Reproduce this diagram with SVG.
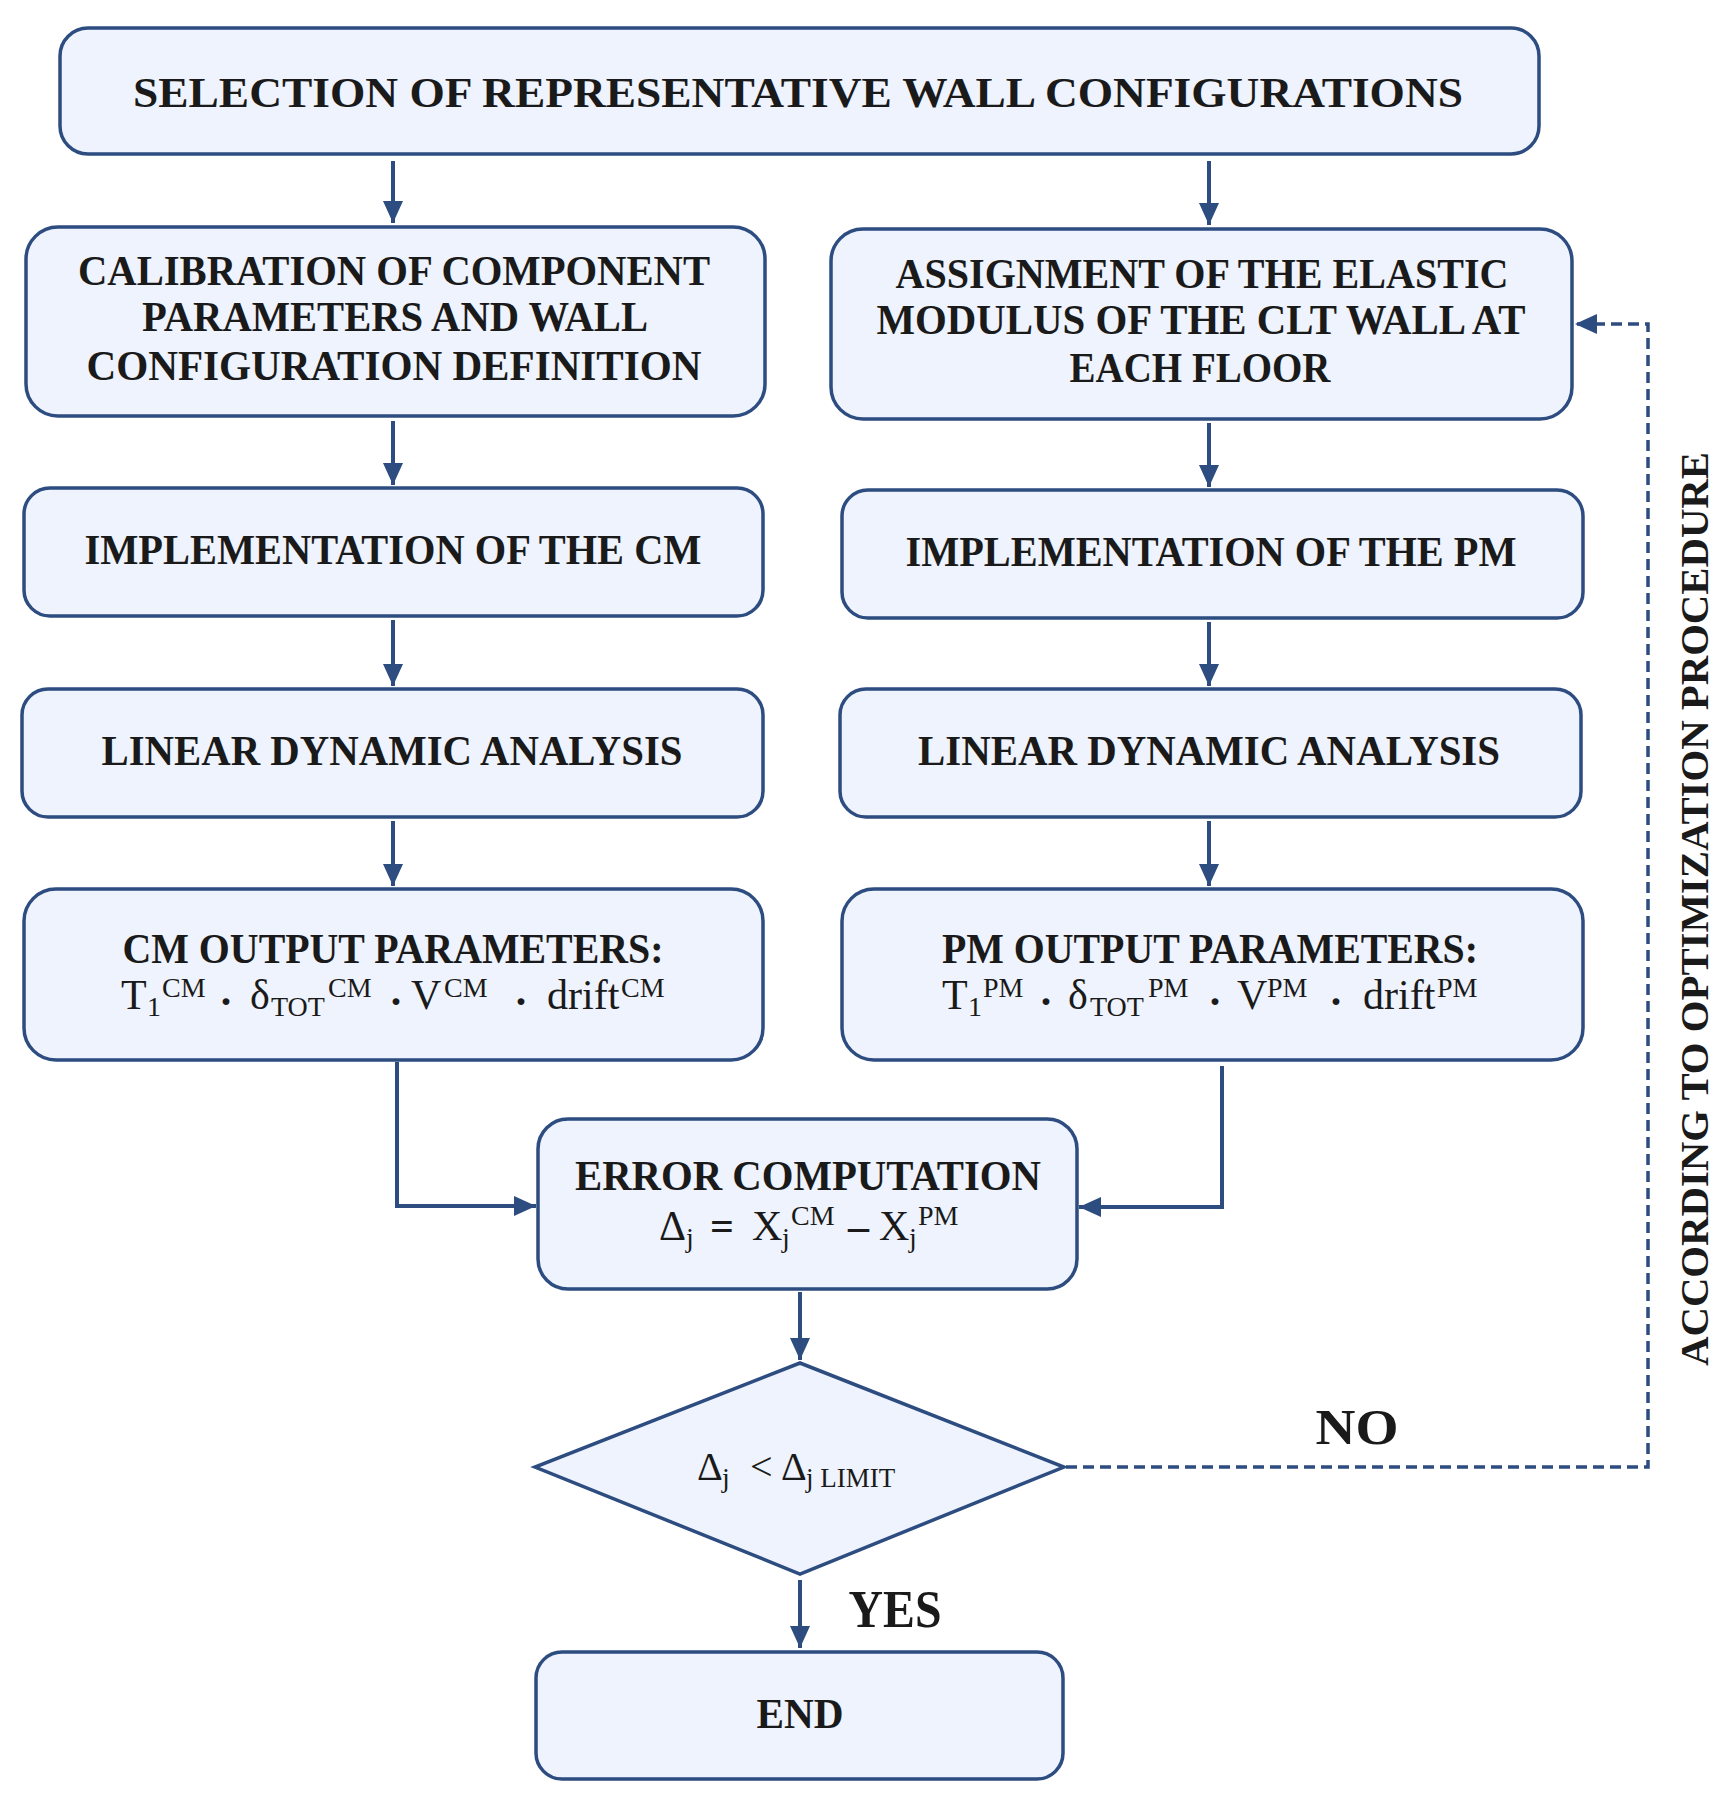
<svg xmlns="http://www.w3.org/2000/svg" width="1735" height="1804" viewBox="0 0 1735 1804">
<defs>
<style>
.box{fill:#eef3fd;stroke:#2d4c80;stroke-width:3.5}
.t{font-family:"Liberation Serif",serif;font-size:42px;font-weight:bold;fill:#1a1a1a;text-anchor:middle}
.f{font-family:"Liberation Serif",serif;font-size:42px;fill:#1a1a1a;text-anchor:start}
.s{font-size:28px}
.b{font-weight:bold}
.c{fill:none;stroke:#2d4c80;stroke-width:4}
.d{fill:none;stroke:#2d4c80;stroke-width:3.5;stroke-dasharray:11 6}
</style>
<marker id="ah" markerUnits="userSpaceOnUse" markerWidth="24" markerHeight="22" refX="22" refY="10" orient="auto">
<path d="M0,0 L22,10 L0,20 Z" fill="#2d4c80"/>
</marker>
</defs>
<rect width="1735" height="1804" fill="#ffffff"/>

<g id="connectors">
<path class="c" d="M393,161 V223" marker-end="url(#ah)"/>
<path class="c" d="M1209,161 V225" marker-end="url(#ah)"/>
<path class="c" d="M393,421 V485" marker-end="url(#ah)"/>
<path class="c" d="M393,620 V686" marker-end="url(#ah)"/>
<path class="c" d="M393,821 V886" marker-end="url(#ah)"/>
<path class="c" d="M1209,423 V487" marker-end="url(#ah)"/>
<path class="c" d="M1209,622 V686" marker-end="url(#ah)"/>
<path class="c" d="M1209,821 V886" marker-end="url(#ah)"/>
<path class="c" d="M397,1062 V1206 H536" marker-end="url(#ah)"/>
<path class="c" d="M1222,1066 V1207 H1079" marker-end="url(#ah)"/>
<path class="c" d="M800,1292 V1360" marker-end="url(#ah)"/>
<path class="c" d="M800,1580 V1648" marker-end="url(#ah)"/>
<path class="d" d="M1066,1467 H1648 V324 H1575" marker-end="url(#ah)"/>
</g>

<g id="n-selection">
<rect class="box" x="60" y="28" width="1479" height="126" rx="28"/>
<text class="t" x="798" y="107" textLength="1330" lengthAdjust="spacingAndGlyphs">SELECTION OF REPRESENTATIVE WALL CONFIGURATIONS</text>
</g>

<g id="n-calibration">
<rect class="box" x="26" y="227" width="739" height="189" rx="32"/>
<text class="t" x="394" y="285" textLength="632" lengthAdjust="spacingAndGlyphs">CALIBRATION OF COMPONENT</text>
<text class="t" x="395" y="331" textLength="506" lengthAdjust="spacingAndGlyphs">PARAMETERS AND WALL</text>
<text class="t" x="394" y="380" textLength="615" lengthAdjust="spacingAndGlyphs">CONFIGURATION DEFINITION</text>
</g>

<g id="n-assignment">
<rect class="box" x="831" y="229" width="741" height="190" rx="32"/>
<text class="t" x="1202" y="288" textLength="613" lengthAdjust="spacingAndGlyphs">ASSIGNMENT OF THE ELASTIC</text>
<text class="t" x="1201" y="334" textLength="649" lengthAdjust="spacingAndGlyphs">MODULUS OF THE CLT WALL AT</text>
<text class="t" x="1200" y="382" textLength="261" lengthAdjust="spacingAndGlyphs">EACH FLOOR</text>
</g>

<g id="n-impl-cm">
<rect class="box" x="24" y="488" width="739" height="128" rx="26"/>
<text class="t" x="393" y="564" textLength="617" lengthAdjust="spacingAndGlyphs">IMPLEMENTATION OF THE CM</text>
</g>

<g id="n-impl-pm">
<rect class="box" x="842" y="490" width="741" height="128" rx="26"/>
<text class="t" x="1211" y="566" textLength="611" lengthAdjust="spacingAndGlyphs">IMPLEMENTATION OF THE PM</text>
</g>

<g id="n-lda-cm">
<rect class="box" x="22" y="689" width="741" height="128" rx="26"/>
<text class="t" x="392" y="765" textLength="581" lengthAdjust="spacingAndGlyphs">LINEAR DYNAMIC ANALYSIS</text>
</g>

<g id="n-lda-pm">
<rect class="box" x="840" y="689" width="741" height="128" rx="26"/>
<text class="t" x="1209" y="765" textLength="582" lengthAdjust="spacingAndGlyphs">LINEAR DYNAMIC ANALYSIS</text>
</g>

<g id="n-out-cm">
<rect class="box" x="24" y="889" width="739" height="171" rx="32"/>
<text class="t" x="393" y="963" textLength="541" lengthAdjust="spacingAndGlyphs">CM OUTPUT PARAMETERS:</text>
<text class="f"><tspan x="121" y="1009">T</tspan><tspan class="s" x="147" y="1016">1</tspan><tspan class="s" x="162" y="997">CM</tspan><tspan class="b" x="219" y="1016">·</tspan><tspan x="250" y="1009">δ</tspan><tspan class="s" x="271" y="1016">TOT</tspan><tspan class="s" x="328" y="997">CM</tspan><tspan class="b" x="389" y="1016">·</tspan><tspan x="411" y="1009">V</tspan><tspan class="s" x="444" y="997">CM</tspan><tspan class="b" x="514" y="1016">·</tspan><tspan x="547" y="1009">drift</tspan><tspan class="s" x="621" y="997">CM</tspan></text>
</g>

<g id="n-out-pm">
<rect class="box" x="842" y="889" width="741" height="171" rx="32"/>
<text class="t" x="1210" y="963" textLength="536" lengthAdjust="spacingAndGlyphs">PM OUTPUT PARAMETERS:</text>
<text class="f"><tspan x="942" y="1009">T</tspan><tspan class="s" x="968" y="1016">1</tspan><tspan class="s" x="983" y="997">PM</tspan><tspan class="b" x="1039" y="1016">·</tspan><tspan x="1068" y="1009">δ</tspan><tspan class="s" x="1090" y="1016">TOT</tspan><tspan class="s" x="1148" y="997">PM</tspan><tspan class="b" x="1208" y="1016">·</tspan><tspan x="1237" y="1009">V</tspan><tspan class="s" x="1267" y="997">PM</tspan><tspan class="b" x="1329" y="1016">·</tspan><tspan x="1363" y="1009">drift</tspan><tspan class="s" x="1437" y="997">PM</tspan></text>
</g>

<g id="n-error">
<rect class="box" x="538" y="1119" width="539" height="170" rx="30"/>
<text class="t" x="808" y="1190" textLength="466" lengthAdjust="spacingAndGlyphs">ERROR COMPUTATION</text>
<text class="f"><tspan x="659" y="1240">Δ</tspan><tspan class="s" x="686" y="1247">j</tspan><tspan class="b" x="710" y="1240">=</tspan><tspan x="752" y="1240">X</tspan><tspan class="s" x="782" y="1247">j</tspan><tspan class="s" x="791" y="1225">CM</tspan><tspan class="b" x="848" y="1240">–</tspan><tspan x="879" y="1240">X</tspan><tspan class="s" x="909" y="1247">j</tspan><tspan class="s" x="918" y="1225">PM</tspan></text>
</g>

<g id="n-decision">
<polygon class="box" points="800,1363 1064,1467 800,1574 535,1467"/>
<text class="f" style="font-size:40px"><tspan x="697" y="1480">Δ</tspan><tspan class="s" x="722" y="1487">j</tspan><tspan x="750" y="1480">&lt;</tspan><tspan x="781" y="1480">Δ</tspan><tspan style="font-size:27px" x="806" y="1487">j LIMIT</tspan></text>
</g>

<g id="n-end">
<rect class="box" x="536" y="1652" width="527" height="127" rx="26"/>
<text class="t" x="800" y="1728" textLength="87" lengthAdjust="spacingAndGlyphs">END</text>
</g>

<g id="labels">
<text class="t" x="1357" y="1444" style="font-size:50px" textLength="83" lengthAdjust="spacingAndGlyphs">NO</text>
<text class="t" x="895" y="1627" style="font-size:52px" textLength="93" lengthAdjust="spacingAndGlyphs">YES</text>
<text class="t" transform="translate(1708,909) rotate(-90)" x="0" y="0" style="font-size:40px" textLength="914" lengthAdjust="spacingAndGlyphs">ACCORDING TO OPTIMIZATION PROCEDURE</text>
</g>
</svg>
